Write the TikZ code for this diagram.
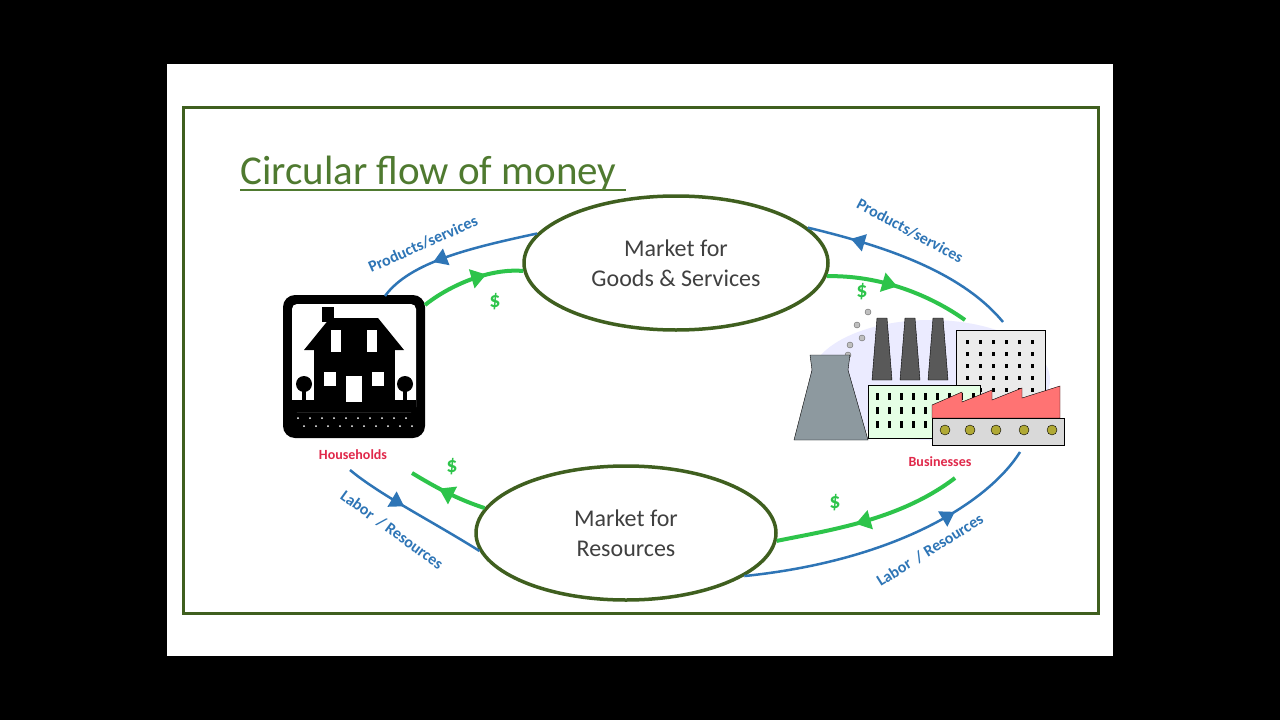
\documentclass[tikz,border=0pt]{standalone}
\usepackage{fontspec}
\setmainfont{Carlito}
\usetikzlibrary{decorations.markings,arrows.meta,shapes.geometric}
\definecolor{dgreen}{HTML}{3F5F1F}
\definecolor{tgreen}{HTML}{4F7A30}
\definecolor{fblue}{HTML}{2E75B6}
\definecolor{fgreen}{HTML}{2DC44A}
\definecolor{hred}{HTML}{E0284A}
\tikzset{
 mk/.style={ellipse,draw=dgreen,line width=3.5pt,inner sep=0pt,align=center,font=\fontsize{24}{30}\selectfont,text=black!75},
 bflow/.style={draw=fblue,line width=2.5pt,postaction={decorate},decoration={markings,mark=at position #1 with {\fill[fblue](4pt,0)--(-10pt,9pt)--(-10pt,-9pt)--cycle;}}},
 gflow/.style={draw=fgreen,line width=4pt,postaction={decorate},decoration={markings,mark=at position #1 with {\fill[fgreen](5pt,0)--(-10pt,10pt)--(-10pt,-10pt)--cycle;}}},
 lbl/.style={text=fblue,font=\bfseries\fontsize{16}{18}\selectfont},
 dol/.style={text=fgreen,font=\bfseries\fontsize{22}{24}\selectfont},
 who/.style={text=hred,font=\bfseries\fontsize{14}{16}\selectfont}
}
\begin{document}
\begin{tikzpicture}[x=1pt,y=-1pt]
\fill[black] (0,0) rectangle (1280,720);
\useasboundingbox (0,0) rectangle (1280,720);
\fill[white] (167,64) rectangle (1113,656);
\draw[dgreen,line width=3pt] (183,107) rectangle (1098,613);
\node[anchor=base west,text=tgreen,font=\fontsize{41}{46}\selectfont,inner sep=0pt] (title) at (240,184) {Circular flow of money};
\draw[tgreen,line width=2pt] (240,190) -- (626,190);
% markets
\node[mk,minimum width=304pt,minimum height=134pt] (gs) at (676,263) {Market for\\Goods \& Services};
\node[mk,minimum width=300pt,minimum height=134pt] (rs) at (626,533) {Market for\\Resources};
% household icon
\begin{scope}
\fill[black,rounded corners=12pt] (283,295) rectangle (425,438);
\fill[white,rounded corners=5pt] (292,304) rectangle (416,412);
\fill[black] (292,400) rectangle (416,412);
\fill[black] (304,350) -- (330,318) -- (378,318) -- (404,350) -- cycle;
\fill[black] (322,307) rectangle (334,322);
\fill[black] (314,345) rectangle (395,402);
\foreach \x in {336,372}{\fill[white] (\x-5,330) rectangle (\x+5,352);}
\foreach \x in {330,378}{\fill[white] (\x-6,372) rectangle (\x+6,386);}
\fill[white] (346,376) rectangle (362,402);
\foreach \x in {304,405}{\fill[black] (\x,384) circle (8pt); \fill[black] (\x-2,390) rectangle (\x+2,402);}
\foreach \x in {298,310,...,410}{\fill[white] (\x,418) circle (1pt); \fill[white] (\x+6,426) circle (1pt);}
\end{scope}
\node[who] (hh) at (353,455) {Households};
% factory
\begin{scope}
\fill[blue!8] (930,380) ellipse (120pt and 60pt);
\foreach \x in {882,910,938}{\fill[black!65] (\x-5,318) -- (\x+5,318) -- (\x+10,380) -- (\x-10,380) -- cycle;
 \draw[black] (\x-5,318) -- (\x+5,318) -- (\x+10,380) -- (\x-10,380) -- cycle;}
\foreach \p in {(857,325),(850,345),(862,338),(868,312),(848,355)}{\draw[black!60,fill=black!25] \p circle (3pt);}
\fill[gray!70!cyan!60!black!70,draw=black] (810,355) -- (850,355) -- (848,370) -- (868,440) -- (794,440) -- (812,370) -- cycle;
\fill[black!8,draw=black,line width=1pt] (956,330) rectangle (1045,405);
\foreach \i in {0,...,5}{\foreach \j in {0,...,4}{\fill[black] (966+\i*13,340+\j*12) rectangle (969+\i*13,344+\j*12);}}
\fill[green!10,draw=black,line width=1pt] (868,385) rectangle (980,438);
\foreach \i in {0,...,8}{\foreach \j in {0,...,2}{\fill[black] (876+\i*12,393+\j*14) rectangle (879+\i*12,400+\j*14);}}
\fill[red!55,draw=black] (932,418) -- (932,405) -- (962,392) -- (962,402) -- (992,390) -- (992,400) -- (1022,388) -- (1022,398) -- (1060,386) -- (1060,418) -- cycle;
\fill[black!15,draw=black,line width=1pt] (932,418) rectangle (1064,445);
\foreach \x in {945,970,996,1024,1052}{\draw[black,fill=olive!70] (\x,430) circle (5pt);}
\end{scope}
\node[who] (bz) at (940,462) {Businesses};
% named points
\coordinate (h1) at (385,296); \coordinate (h2) at (425,305);
\coordinate (h3) at (350,470); \coordinate (h4) at (412,473);
\coordinate (b1) at (1003,322); \coordinate (b2) at (965,320);
\coordinate (b3) at (1020,452); \coordinate (b4) at (955,478);
% flows
\path[bflow=0.62] (gs.168) .. controls (470,248) and (410,262) .. (h1);
\path[gflow=0.6] (h2) .. controls (450,285) and (490,268) .. (gs.183);
\path[bflow=0.78] (b1) .. controls (960,270) and (880,245) .. (gs.15);
\path[gflow=0.45] (gs.-5) .. controls (880,275) and (930,295) .. (b2);
\path[bflow=0.4] (h3) .. controls (380,495) and (430,520) .. (rs.187);
\path[gflow=0.55] (rs.170) .. controls (460,500) and (440,490) .. (h4);
\path[gflow=0.55] (b4) .. controls (900,520) and (830,530) .. (rs.-3);
\path[bflow=0.7] (rs.-20) .. controls (900,560) and (990,500) .. (b3);
% labels
\node[lbl,rotate=24] (l1) at (423,244) {Products/services};
\node[lbl,rotate=-28] (l2) at (910,231) {Products/services};
\node[lbl,rotate=-36] (l3) at (392,530) {Labor \ / Resources};
\node[lbl,rotate=32] (l4) at (930,550) {Labor \ / Resources};
\node[dol] (d1) at (495,302) {\$};
\node[dol] (d2) at (862,292) {\$};
\node[dol] (d3) at (452,467) {\$};
\node[dol] (d4) at (835,503) {\$};
\end{tikzpicture}
\end{document}
